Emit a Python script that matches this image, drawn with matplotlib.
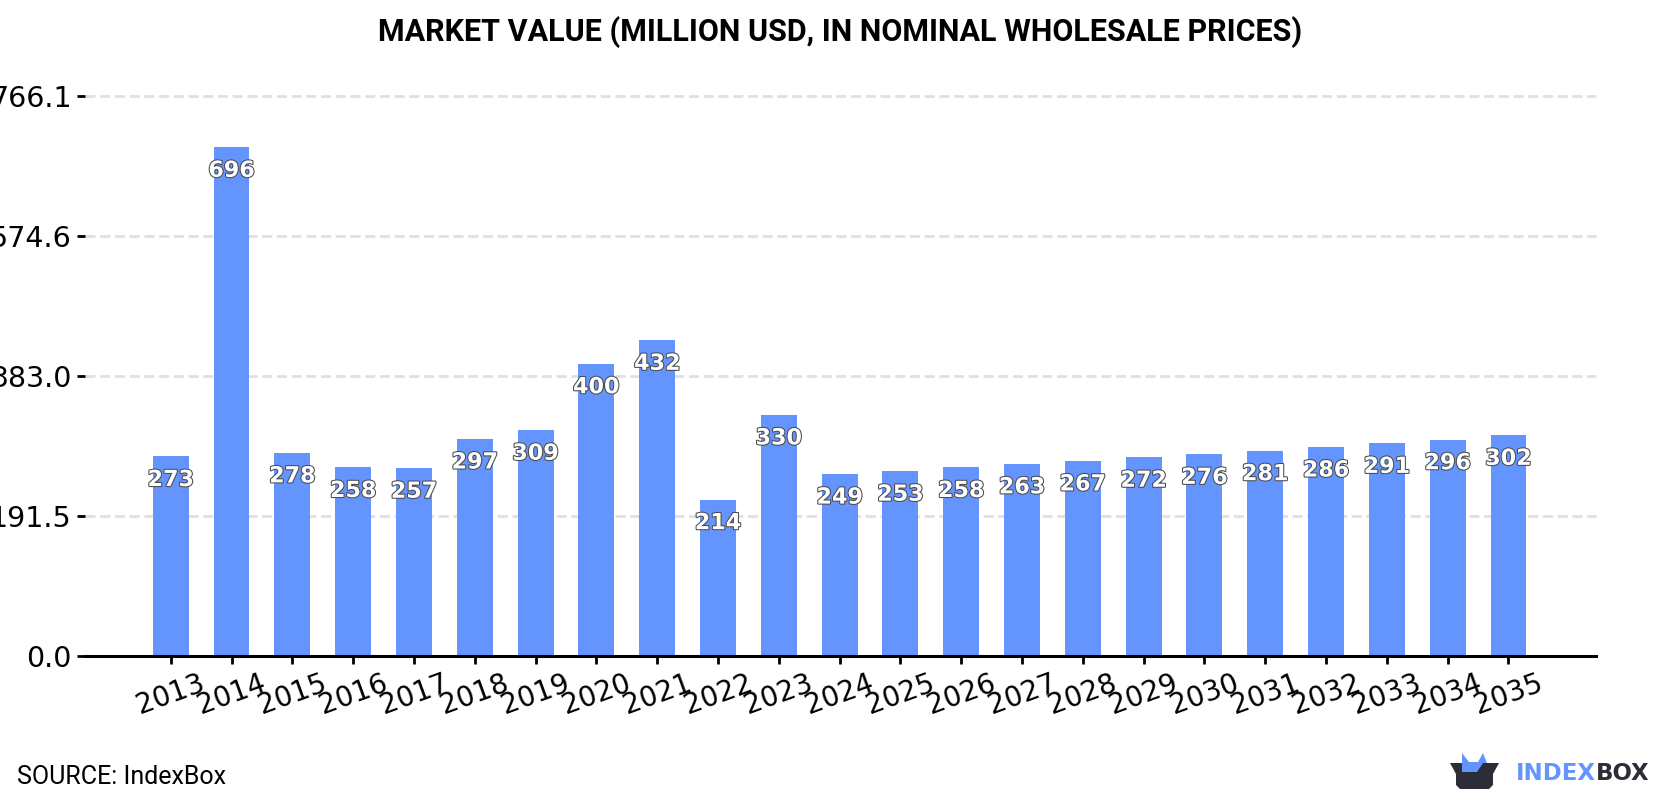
"""Market value bar chart with forecast years."""

# %% imports
import matplotlib

matplotlib.use("Agg")
import matplotlib.patheffects as pe
import matplotlib.pyplot as plt
import numpy as np
from matplotlib.patches import Polygon

# %% data
years = [2013, 2014, 2015, 2016, 2017, 2018, 2019, 2020, 2021, 2022, 2023, 2024,
         2025, 2026, 2027, 2028, 2029, 2030, 2031, 2032, 2033, 2034, 2035]
values = [273, 696, 278, 258, 257, 297, 309, 400, 432, 214, 330, 249,
          253, 258, 263, 267, 272, 276, 281, 286, 291, 296, 302]
y_ticks = [0.0, 191.5, 383.0, 574.6, 766.1]

BLUE = "#6495ff"
DARK = "#2b2d38"
W, H = 1680, 800

# %% figure and axes
fig = plt.figure(figsize=(W / 100, H / 100), dpi=100)
ax = fig.add_axes([85 / W, 1 - 656 / H, (1596 - 85) / W, (656 - 96) / H])

x = np.arange(len(years))
ax.bar(x, values, width=0.59, color=BLUE, zorder=3)
ax.set_xlim(-1.41, 23.44)
ax.set_ylim(0, 766.1)

ax.set_yticks(y_ticks, [f"{t:.1f}" for t in y_ticks])
ax.set_xticks(x, [str(y) for y in years], rotation=20, ha="center")
ax.tick_params(axis="y", labelsize=20.5, length=6, width=2, pad=3.5)
ax.tick_params(axis="x", labelsize=20, length=5.5, width=2, pad=4)
ax.grid(axis="y", color="#e0e0e0", linestyle=(0, (3.6, 1.7)), linewidth=2, zorder=0)
for g in ax.get_ygridlines():
    g.set_clip_on(False)

for side in ("top", "right", "left"):
    ax.spines[side].set_visible(False)
ax.spines["bottom"].set_linewidth(2.2)
ax.spines["bottom"].set_zorder(4)

# %% value labels inside the bars
for xi, v in zip(x, values):
    ax.annotate(
        str(v), (xi, v), xytext=(0, -17), textcoords="offset points",
        ha="center", va="center", fontsize=16, fontweight="bold",
        family="DejaVu Sans", color="white", zorder=5, annotation_clip=False,
        path_effects=[pe.withStroke(linewidth=1.5, foreground="#4a4a4a")],
    )

# %% title and source
fig.text(840 / W, 1 - 32 / H, "MARKET VALUE (MILLION USD, IN NOMINAL WHOLESALE PRICES)",
         ha="center", va="center", fontsize=22, fontweight="bold", family="Roboto")
fig.text(17 / W, 1 - 777 / H, "SOURCE: IndexBox", ha="left", va="center",
         fontsize=18, family="Roboto")

# %% logo, drawn on a full-figure overlay in pixel units
logo = fig.add_axes([0, 0, 1, 1], facecolor="none")
logo.set_xlim(0, W)
logo.set_ylim(H, 0)
logo.axis("off")
logo.add_patch(Polygon(
    [(1462, 753), (1469, 762), (1478, 762), (1483, 753), (1487, 763), (1487, 768),
     (1477, 773), (1462, 773)],
    closed=True, facecolor=BLUE, edgecolor="none"))
logo.add_patch(Polygon(
    [(1450, 763), (1462, 763), (1462, 772), (1477, 772), (1483, 763), (1499, 763),
     (1493, 774), (1493, 785), (1489, 789), (1460, 789), (1456, 785), (1456, 774)],
    closed=True, facecolor=DARK, edgecolor="none"))
logo.text(1516, 774, "INDEX", ha="left", va="center", fontsize=16.5,
          fontweight="bold", family="DejaVu Sans", color=BLUE)
logo.text(1596, 774, "BOX", ha="left", va="center", fontsize=16.5,
          fontweight="bold", family="DejaVu Sans", color=DARK)

# %% save
fig.savefig("out.png", dpi=100, facecolor="white")
plt.close(fig)
